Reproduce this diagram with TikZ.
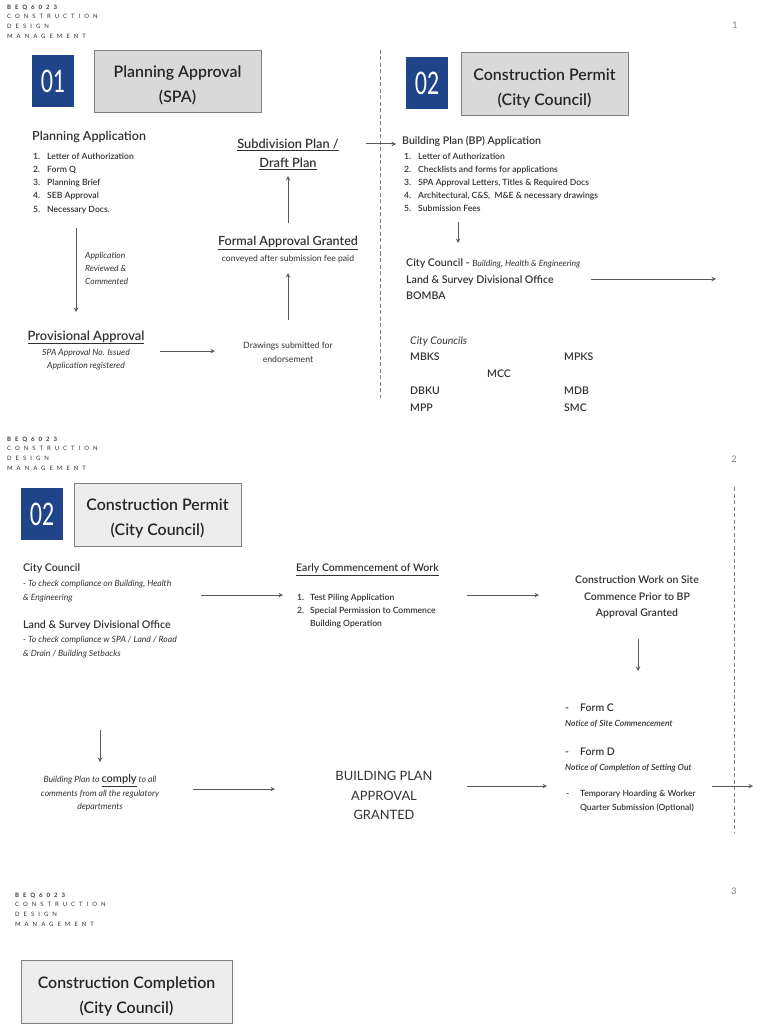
\documentclass[tikz,border=0pt]{standalone}
\usepackage{graphicx}
\usepackage{fontspec}
\setmainfont{Lato}
\IfFontExistsTF{Lato Semibold}{\newfontfamily\semibold{Lato Semibold}}{\newcommand\semibold{\bfseries}}
\usepackage{xcolor}
\usepackage{tikz}

\definecolor{stageblue}{RGB}{31,68,138}
\definecolor{boxgray}{RGB}{217,217,217}
\definecolor{boxlight}{RGB}{237,237,237}
\definecolor{boxline}{RGB}{127,127,127}
\definecolor{txt}{RGB}{50,50,50}
\definecolor{arrowgray}{RGB}{89,89,89}
\definecolor{pagegray}{RGB}{128,128,128}

\newcommand\fsz[2]{\fontsize{#1}{#2}\selectfont}
\newcommand\coursehead{{\bfseries BEQ6023}\\CONSTRUCTION\\DESIGN\\MANAGEMENT}
\newcommand\num[1]{\makebox[14pt][l]{#1}}

\begin{document}
\begin{tikzpicture}[x=1pt,y=-1pt,>=stealth,
    every node/.style={text=txt,inner sep=0pt},
    flow/.style={->,line width=1pt,draw=arrowgray},
    divider/.style={draw=boxline,line width=0.8pt,dash pattern=on 4pt off 2.5pt},
    head/.style={anchor=north west,align=left,font=\fsz{6}{9.7}\addfontfeature{LetterSpace=66}},
    pageno/.style={text=pagegray,font=\fsz{9}{11}},
    numbox/.style={fill=stageblue,text=white,minimum width=42pt,minimum height=52pt,font=\fsz{31}{31}},
    titlebox/.style={draw=boxline,line width=0.8pt,minimum height=63pt},
    titletxt/.style={anchor=north,align=center,text=black!85,font=\fsz{15.9}{25}\semibold},
    listtxt/.style={anchor=north west,align=left,font=\fsz{8.6}{13}\semibold},
    note/.style={align=center,font=\fsz{8.6}{13}\itshape}]
\useasboundingbox (0,0) rectangle (768,1024);

% ---------------- page 1
\node[head] (head1) at (7,4.6) {\coursehead};
\node[pageno] (page1) at (735,25) {1};

\node[numbox] (n01) at (53,81.5) {\scalebox{0.68}[1]{01}};
\node[titlebox,fill=boxgray,minimum width=167pt,minimum height=62pt] (spa) at (177.5,81) {};
\node[titletxt] (spatxt) at (177.5,65.6) {Planning Approval\\(SPA)};

\node[numbox] (n02) at (427,83.5) {\scalebox{0.68}[1]{02}};
\node[titlebox,fill=boxgray,minimum width=167pt] (cp) at (544.5,83.5) {};
\node[titletxt] (cptxt) at (544.5,68.6) {Construction Permit\\(City Council)};

\coordinate (div1a) at (380,50);
\coordinate (div1b) at (380,398);
\draw[divider] (div1a) -- (div1b);

\node[anchor=base west,font=\fsz{12.5}{15}\semibold] (planapp) at (32,140.6) {Planning Application};
\node[listtxt,font=\fsz{8.6}{13.25}\semibold] (planlist) at (33,152.5) {\num{1.}Letter of Authorization\\\num{2.}Form Q\\\num{3.}Planning Brief\\\num{4.}SEB Approval\\\num{5.}Necessary Docs.};

\node[anchor=north,align=center,font=\fsz{12.8}{19}\semibold] (subdiv) at (288,138.8) {\underline{Subdivision Plan /}\\\underline{Draft Plan}};
\node[anchor=base,font=\fsz{12.6}{15}\semibold] (formal) at (288,245.7) {\underline{Formal Approval Granted}};
\node[anchor=base,font=\fsz{8.6}{9}] (conveyed) at (288,261) {conveyed after submission fee paid};
\node[anchor=north,align=center,font=\fsz{8.7}{14}] (drawings) at (288,341.5) {Drawings submitted for\\endorsement};

\node[note,anchor=north west,align=left,font=\fsz{8.5}{13.3}\itshape] (reviewed) at (85,251.7) {Application\\Reviewed \&\\Commented};
\node[anchor=base,font=\fsz{12.9}{16}\semibold] (prov) at (86,340) {\underline{Provisional Approval}};
\node[note,anchor=north] (spano) at (86,348.7) {SPA Approval No. Issued\\Application registered};

\coordinate (a1) at (76,228);   \coordinate (b1) at (76,312);
\coordinate (a2) at (160,351);  \coordinate (b2) at (215,351);
\coordinate (a3) at (288,320);  \coordinate (b3) at (288,273);
\coordinate (a4) at (288,223);  \coordinate (b4) at (288,176);
\coordinate (a5) at (366,144);  \coordinate (b5) at (396,144);
\draw[flow] (a1) -- (b1);
\draw[flow] (a2) -- (b2);
\draw[flow] (a3) -- (b3);
\draw[flow] (a4) -- (b4);
\draw[flow] (a5) -- (b5);

\node[anchor=base west,font=\fsz{10.6}{13}\semibold] (bpapp) at (402,145) {Building Plan (BP) Application};
\node[listtxt] (bplist) at (404,152.7) {\num{1.}Letter of Authorization\\\num{2.}Checklists and forms for applications\\\num{3.}SPA Approval Letters, Titles \& Required Docs\\\num{4.}Architectural, C\&S, \ M\&E \& necessary drawings\\\num{5.}Submission Fees};

\node[anchor=north west,align=left,font=\fsz{10.6}{16.7}\semibold] (council) at (406,258.4) {City Council - {\fsz{8.6}{16.7}\normalfont\itshape Building, Health \& Engineering}\\Land \& Survey Divisional Office\\BOMBA};
\coordinate (a6) at (458,222);  \coordinate (b6) at (458,243);
\coordinate (a7) at (591,279);  \coordinate (b7) at (716,279);
\draw[flow] (a6) -- (b6);
\draw[flow] (a7) -- (b7);

\node[anchor=base west,font=\fsz{10.5}{11}\itshape] (cctitle) at (410,344.7) {City Councils};
\tikzstyle{every node}=[text=txt,inner sep=0pt,anchor=base west,font=\fsz{10.5}{11}\semibold]   % council codes
\node (mbks) at (410,360.8) {MBKS};
\node (mpks) at (564,360.8) {MPKS};
\node (mcc)  at (487,377.8) {MCC};
\node (dbku) at (410,394.8) {DBKU};
\node (mdb)  at (564,394.8) {MDB};
\node (mpp)  at (410,411.8) {MPP};
\node (smc)  at (564,411.8) {SMC};
\tikzstyle{every node}=[text=txt,inner sep=0pt]

% ---------------- page 2
\node[head] (head2) at (7,436.6) {\coursehead};
\node[pageno] (page2) at (734,459) {2};

\node[numbox] (n02b) at (42,514) {\scalebox{0.68}[1]{02}};
\node[titlebox,fill=boxlight,minimum width=167pt] (cp2) at (157.5,514.5) {};
\node[titletxt] (cp2txt) at (157.5,498.6) {Construction Permit\\(City Council)};

\node[anchor=base west,font=\fsz{10.6}{13}\semibold] (cc2) at (23,571.7) {City Council};
\node[note,anchor=north west,align=left,font=\fsz{8.6}{14}\itshape] (cc2note) at (23,579.7) {- To check compliance on Building, Health\\\& Engineering};
\node[anchor=base west,font=\fsz{10.6}{13}\semibold] (land2) at (23,628) {Land \& Survey Divisional Office};
\node[note,anchor=north west,align=left,font=\fsz{8.6}{14}\itshape] (land2note) at (23,635.7) {- To check compliance w SPA / Land / Road\\\& Drain / Building Setbacks};

\node[anchor=base west,font=\fsz{10.5}{13}\semibold] (early) at (296,571.8) {\underline{Early Commencement of Work}};
\node[listtxt] (earlylist) at (297,593.7) {\makebox[13pt][l]{1.}Test Piling Application\\\makebox[13pt][l]{2.}Special Permission to Commence\\\makebox[13pt][l]{}Building Operation};

\node[anchor=north,align=center,font=\fsz{10.5}{16.5}\semibold] (cwork) at (637,575.8) {Construction Work on Site\\Commence Prior to BP\\Approval Granted};

\node[anchor=base west,font=\fsz{10.5}{13}\semibold] (formc) at (565,711.8) {\makebox[15pt][l]{-}Form C};
\node[anchor=base west,font=\fsz{8.5}{9}\semibold\itshape] (notec) at (565,726) {Notice of Site Commencement};
\node[anchor=base west,font=\fsz{10.5}{13}\semibold] (formd) at (565,755.8) {\makebox[15pt][l]{-}Form D};
\node[anchor=base west,font=\fsz{8.5}{9}\semibold\itshape] (noted) at (565,770) {Notice of Completion of Setting Out};
\node[listtxt,font=\fsz{8.5}{14}\semibold] (hoard) at (566,789.7) {\num{-}Temporary Hoarding \& Worker\\\num{}Quarter Submission (Optional)};

\node[note,anchor=north,font=\fsz{8.6}{13.5}\itshape] (comply) at (100,774.5) {Building Plan to {\upshape\semibold\fsz{11}{13.5}\underline{comply}} to all\\comments from all the regulatory\\departments};
\node[anchor=north,align=center,font=\fsz{12.9}{19.5}] (bpok) at (384,771) {BUILDING PLAN\\APPROVAL\\GRANTED};

\coordinate (div2a) at (734,487);
\coordinate (div2b) at (734,832);
\draw[divider] (div2a) -- (div2b);

\coordinate (a8)  at (201,595);  \coordinate (b8)  at (283,595);
\coordinate (a9)  at (467,595);  \coordinate (b9)  at (539,595);
\coordinate (a10) at (638,639);  \coordinate (b10) at (638,671);
\coordinate (a11) at (100,730);  \coordinate (b11) at (100,762);
\coordinate (a12) at (193,789);  \coordinate (b12) at (275,789);
\coordinate (a13) at (467,786);  \coordinate (b13) at (547,786);
\coordinate (a14) at (712,786);  \coordinate (b14) at (753,786);
\draw[flow] (a8) -- (b8);
\draw[flow] (a9) -- (b9);
\draw[flow] (a10) -- (b10);
\draw[flow] (a11) -- (b11);
\draw[flow] (a12) -- (b12);
\draw[flow] (a13) -- (b13);
\draw[flow] (a14) -- (b14);

% ---------------- page 3
\node[head] (head3) at (15,892.6) {\coursehead};
\node[pageno] (page3) at (734,891) {3};
\node[titlebox,fill=boxlight,minimum width=211pt] (done) at (126.5,991.5) {};
\node[titletxt] (donetxt) at (126.5,976.2) {Construction Completion\\(City Council)};
\end{tikzpicture}
\end{document}
